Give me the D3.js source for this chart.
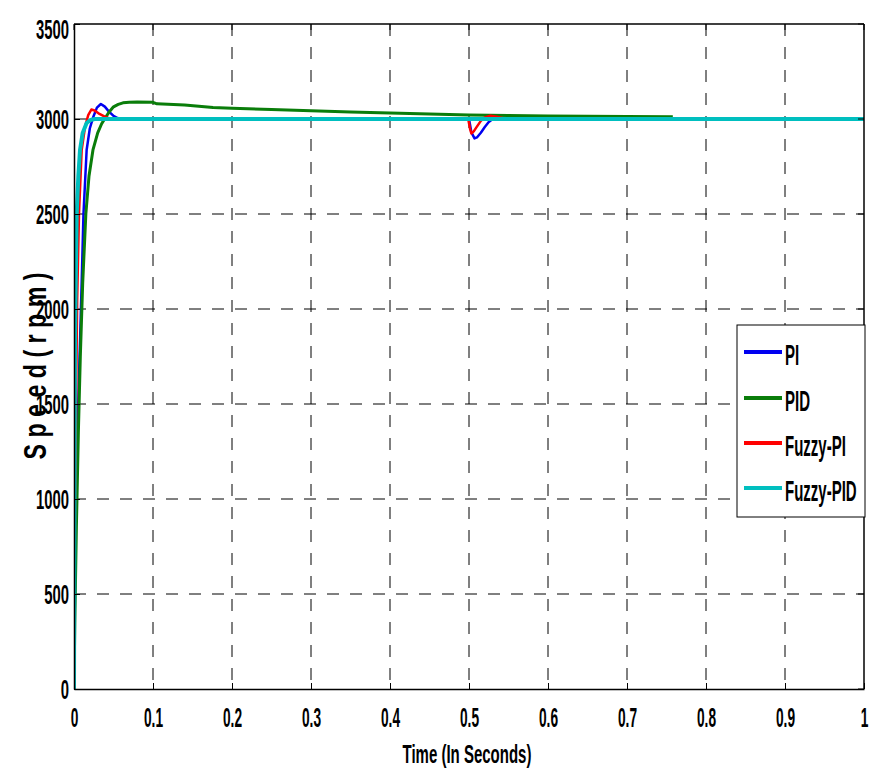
<!DOCTYPE html>
<html>
<head>
<meta charset="utf-8">
<script src="https://cdn.jsdelivr.net/npm/d3@7"></script>
<style>
  html, body { margin: 0; padding: 0; background: #fff; }
  svg { display: block; }
  text { font-family: "Liberation Sans", Arial, sans-serif; font-weight: bold; fill: #000; }
</style>
</head>
<body>
<svg id="chart" width="890" height="774"></svg>
<script>
// ---------- data ----------
const xTicks = [0, 0.1, 0.2, 0.3, 0.4, 0.5, 0.6, 0.7, 0.8, 0.9, 1];
const xTickLabels = ["0", "0.1", "0.2", "0.3", "0.4", "0.5", "0.6", "0.7", "0.8", "0.9", "1"];
const yTicks = [0, 500, 1000, 1500, 2000, 2500, 3000, 3500];
const yTickLabels = ["0", "500", "1000", "1500", "2000", "2500", "3000", "3500"];

const seriesNames = ["PI", "PID", "Fuzzy-PI", "Fuzzy-PID"];

const piTime  = [0, 0.0008, 0.002, 0.004, 0.0067, 0.0097, 0.012, 0.016, 0.02, 0.0245, 0.029, 0.034, 0.039, 0.044, 0.05, 0.055, 0.06,
                 0.5, 0.503, 0.507, 0.51, 0.515, 0.52, 0.525, 0.53, 0.536, 0.545, 0.56, 0.76];
const piSpeed = [0, 350, 900, 1310, 1695, 2137, 2500, 2837, 2950, 3012, 3060, 3079, 3065, 3040, 3016, 3005, 3000,
                 3000, 2930, 2898, 2903, 2928, 2958, 2984, 3000, 3007, 3003, 3000, 3000];

const pidTime  = [0, 0.001, 0.003, 0.0055, 0.008, 0.011, 0.015, 0.019, 0.024, 0.03, 0.035, 0.0405, 0.045, 0.05, 0.056, 0.062, 0.07, 0.08, 0.1,
                  0.105, 0.14, 0.176, 0.2, 0.25, 0.3, 0.35, 0.4, 0.45, 0.5, 0.55, 0.6, 0.65, 0.7, 0.758];
const pidSpeed = [0, 350, 850, 1347, 1750, 2137, 2500, 2700, 2837, 2927, 2975, 3012, 3040, 3064, 3077, 3085, 3088, 3089, 3088,
                  3080, 3074, 3060, 3056, 3050, 3043, 3037, 3032, 3026, 3021, 3018, 3016, 3014, 3013, 3012];

const fpiTime  = [0, 0.0013, 0.004, 0.0063, 0.0097, 0.014, 0.018, 0.022, 0.026, 0.031, 0.039, 0.045, 0.05,
                  0.499, 0.5015, 0.503, 0.506, 0.51, 0.515, 0.52, 0.527, 0.535, 0.545, 0.555, 0.76];
const fpiSpeed = [0, 995, 2047, 2500, 2837, 2959, 3020, 3050, 3045, 3030, 3012, 3003, 3000,
                  3000, 2945, 2924, 2935, 2960, 2990, 3008, 3017, 3012, 3003, 3000, 3000];

const fpidTime  = [0, 0.0005, 0.0013, 0.0034, 0.0055, 0.0076, 0.011, 0.016, 0.021, 0.026, 1];
const fpidSpeed = [0, 800, 1873, 2500, 2700, 2837, 2927, 2979, 2995, 3000, 3000];

const seriesColors = ["#0000f0", "#0a7d0a", "#ff0000", "#00bfbf"];
const seriesWidths = [2.5, 3, 2.5, 4];

// ---------- layout ----------
const svg = d3.select("#chart");
const L = 74, R = 864, T = 24, B = 689;
const x = d3.scaleLinear().domain([0, 1]).range([L, R]);
const y = d3.scaleLinear().domain([0, 3500]).range([B, T]);

function squeeze(sel, f) {
  sel.each(function () {
    const len = this.getComputedTextLength();
    d3.select(this).attr("textLength", len * f).attr("lengthAdjust", "spacingAndGlyphs");
  });
}

// grid
const grid = svg.append("g").attr("stroke", "#000").attr("stroke-width", 1).attr("stroke-dasharray", "12,11");
grid.selectAll("line.v").data(xTicks.slice(1, -1)).join("line")
  .attr("x1", d => x(d)).attr("x2", d => x(d)).attr("y1", T).attr("y2", B);
grid.selectAll("line.h").data(yTicks.slice(1, -1)).join("line")
  .attr("x1", L).attr("x2", R).attr("y1", d => y(d)).attr("y2", d => y(d));

// series
svg.append("clipPath").attr("id", "clip").append("rect")
  .attr("x", L).attr("y", T).attr("width", R - L).attr("height", B - T);
const line = d3.line().x(d => x(d[0])).y(d => y(d[1]));
const allSeries = [
  d3.zip(piTime, piSpeed),
  d3.zip(pidTime, pidSpeed),
  d3.zip(fpiTime, fpiSpeed),
  d3.zip(fpidTime, fpidSpeed)
];
const plot = svg.append("g").attr("clip-path", "url(#clip)");
allSeries.forEach((s, i) => {
  plot.append("path").datum(s).attr("d", line).attr("fill", "none")
    .attr("stroke", seriesColors[i]).attr("stroke-width", seriesWidths[i])
    .attr("stroke-linejoin", "round");
});

// axes
const xAxis = d3.axisBottom(x).tickValues(xTicks).tickFormat((d, i) => xTickLabels[i]).tickSizeInner(-6).tickSizeOuter(0);
const gx = svg.append("g").attr("transform", `translate(0,${B})`).call(xAxis);
gx.select(".domain").attr("stroke", "#000").attr("stroke-width", 1.5);
gx.selectAll("text").attr("y", 18).attr("font-size", 28).style("font-family", '"Liberation Sans", Arial, sans-serif').style("font-weight", "bold");
squeeze(gx.selectAll("text"), 0.49);

const yAxis = d3.axisLeft(y).tickValues(yTicks).tickFormat((d, i) => yTickLabels[i]).tickSizeInner(-6).tickSizeOuter(0);
const gy = svg.append("g").attr("transform", `translate(${L},0)`).call(yAxis);
gy.select(".domain").attr("stroke", "#000").attr("stroke-width", 1.5);
gy.selectAll("text").attr("x", -5).attr("font-size", 27).style("font-family", '"Liberation Sans", Arial, sans-serif').style("font-weight", "bold")
  .attr("dy", d => d === 3500 ? "0.55em" : "0.35em");
squeeze(gy.selectAll("text"), 0.55);

// box top/right
svg.append("line").attr("x1", L).attr("x2", R).attr("y1", T).attr("y2", T).attr("stroke", "#000").attr("stroke-width", 1.5);
svg.append("line").attr("x1", R).attr("x2", R).attr("y1", T).attr("y2", B).attr("stroke", "#000").attr("stroke-width", 1.5);
svg.append("g").selectAll("line").data(xTicks).join("line")
  .attr("x1", d => x(d)).attr("x2", d => x(d)).attr("y1", T).attr("y2", T + 6).attr("stroke", "#000");
svg.append("g").selectAll("line").data(yTicks).join("line")
  .attr("x1", R - 6).attr("x2", R).attr("y1", d => y(d)).attr("y2", d => y(d)).attr("stroke", "#000");

// axis titles
const xt = svg.append("text").attr("x", 467).attr("y", 763).attr("text-anchor", "middle")
  .attr("font-size", 25).text("Time (In Seconds)");
squeeze(xt, 0.6);

svg.append("text").attr("transform", "translate(46,366) rotate(-90)").attr("text-anchor", "middle")
  .attr("font-size", 31).attr("textLength", 187).attr("lengthAdjust", "spacingAndGlyphs")
  .text("S p e e d ( r p m )");

// legend
const lg = svg.append("g");
lg.append("rect").attr("x", 737).attr("y", 325).attr("width", 128).attr("height", 192)
  .attr("fill", "#fff").attr("stroke", "#000").attr("stroke-width", 1);
const legendY = [352, 398, 443, 488];
seriesNames.forEach((n, i) => {
  lg.append("line").attr("x1", 744).attr("x2", 782).attr("y1", legendY[i]).attr("y2", legendY[i])
    .attr("stroke", seriesColors[i]).attr("stroke-width", 4);
  lg.append("text").attr("transform", `translate(785,${legendY[i] + 13}) scale(0.5,1)`)
    .attr("font-size", 30).text(n);
});
</script>
</body>
</html>
